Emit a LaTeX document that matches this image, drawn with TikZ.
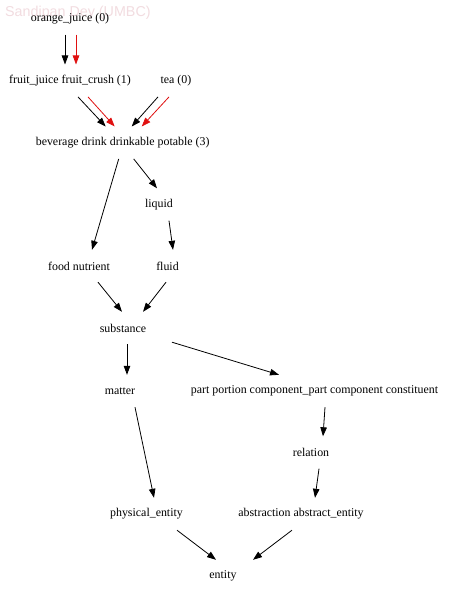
\documentclass[tikz,border=0pt]{standalone}
\usepackage{fontspec}
\setmainfont{Liberation Serif}
\newfontfamily\marksans{Liberation Sans}
\usepackage{xcolor}
\usepackage{tikz}
\usetikzlibrary{arrows.meta}
\definecolor{ink}{HTML}{000000}
\definecolor{hot}{HTML}{E01010}
\definecolor{wmark}{HTML}{F2DCE0}
\tikzset{
  term/.style={inner sep=0pt, minimum height=32pt, font=\fontsize{11.9}{13}\selectfont},
  isa/.style={draw=ink, line width=0.8pt, -{Triangle[length=9pt,width=6.5pt]}},
  isared/.style={isa, draw=hot, -{Triangle[length=9pt,width=6.5pt,fill=hot]}},
  wm/.style={text=wmark, font=\marksans\fontsize{14.3}{16}\selectfont},
}
\begin{document}
\begin{tikzpicture}[x=1pt,y=-1pt]
  \useasboundingbox[fill=white] (0,0) rectangle (474,596);
  % watermark
  \node[wm,anchor=west,inner sep=0pt] (mark) at (5,13) {Sandipan Dey (UMBC)};
  % terms
  \node[term] (oj)   at (70,18.5)    {orange\_juice (0)};
  \node[term] (fj)   at (70,80.7)    {fruit\_juice fruit\_crush (1)};
  \node[term] (tea)  at (176,80.7)   {tea (0)};
  \node[term] (bev)  at (122.7,142.7) {beverage drink drinkable potable (3)};
  \node[term] (liq)  at (159,204.5)  {liquid};
  \node[term] (food) at (79,266)     {food nutrient};
  \node[term] (flu)  at (167.5,266)  {fluid};
  \node[term] (sub)  at (123,328)    {substance};
  \node[term] (mat)  at (120,391)    {matter};
  \node[term] (part) at (314.5,391)  {part portion component\_part component constituent};
  \node[term] (rel)  at (311,452.5)  {relation};
  \node[term] (phys) at (146.5,514)  {physical\_entity};
  \node[term] (abs)  at (301,514)    {abstraction abstract\_entity};
  \node[term] (ent)  at (223,576)    {entity};
  % hypernym links
  \draw[isa]    ([xshift=-5pt]oj.south) -- ([xshift=-5pt]fj.north);
  \draw[isared] ([xshift=6pt]oj.south)  -- ([xshift=6pt]fj.north);
  \draw[isa]    ([xshift=8pt]fj.south)  -- ([xshift=-17pt]bev.north);
  \draw[isared] ([xshift=18pt]fj.south) -- ([xshift=-8pt]bev.north);
  \draw[isa]    ([xshift=-18pt]tea.south) -- ([xshift=9pt]bev.north);
  \draw[isared] ([xshift=-7pt]tea.south)  -- ([xshift=19pt]bev.north);
  \draw[isa] ([xshift=-4pt]bev.south)  -- ([xshift=13pt]food.north);
  \draw[isa] ([xshift=11pt]bev.south)  -- ([xshift=-2pt]liq.north);
  \draw[isa] ([xshift=10pt]liq.south)  -- ([xshift=5.5pt]flu.north);
  \draw[isa] ([xshift=19pt]food.south) -- ([xshift=-1pt]sub.north);
  \draw[isa] ([xshift=-1.5pt]flu.south) -- ([xshift=20pt]sub.north);
  \draw[isa] ([xshift=4pt]sub.south)   -- ([xshift=7pt]mat.north);
  \draw[isa] ([xshift=49pt,yshift=2pt]sub.south) -- ([xshift=-35.5pt]part.north);
  \draw[isa] ([xshift=15pt]mat.south)  -- ([xshift=7.5pt]phys.north);
  \draw[isa] ([xshift=10.5pt]part.south) -- ([xshift=12pt]rel.north);
  \draw[isa] ([xshift=8pt]rel.south)   -- ([xshift=14pt]abs.north);
  \draw[isa] ([xshift=30.5pt]phys.south) -- ([xshift=-7pt]ent.north);
  \draw[isa] ([xshift=-9pt]abs.south)  -- ([xshift=30pt]ent.north);
\end{tikzpicture}
\end{document}
